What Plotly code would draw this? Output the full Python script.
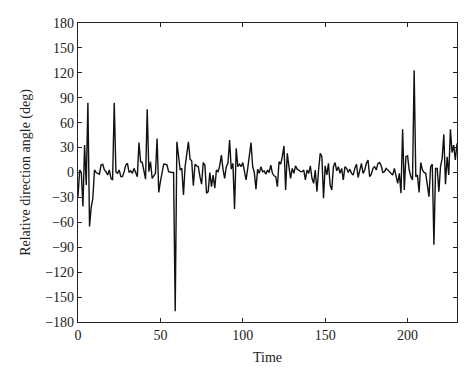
import plotly.graph_objects as go

# Relative direction angle (deg) per time step
angle_0_49 = [-29, 3, 0, -41, 33, -15, 84, -65, -42, -31,
              3, 0, -1, -2, 9, 10, 3, 1, -3, 3,
              -7, -9, 84, 1, -1, 3, -5, -5, 1, 9,
              11, 0, 2, -1, 5, 0, -5, 36, 13, 12,
              1, -8, 76, 1, 13, -7, -4, -1, 41, -24]
angle_50_99 = [-11, -1, 10, 10, 9, 1, 0, 0, 0, -167,
               37, 20, 3, 5, -27, 7, 20, 37, 16, 14,
               -16, 10, 8, 7, -5, -14, 12, 9, -25, -23,
               0, -17, -3, -19, 3, 1, 8, 21, 4, -7,
               7, 11, 39, 4, 11, -44, 29, 7, 10, 7]
angle_100_149 = [12, 2, -9, 5, 19, 36, 7, 0, -20, 4,
                 -1, 7, 1, 2, -2, 3, 0, 9, -1, -4,
                 -5, -17, 13, 10, 19, 32, -21, 23, 7, -7,
                 5, -1, 8, 4, 3, 1, 1, 3, -9, 3,
                 -1, 8, -7, -13, 3, -23, 3, 23, 19, -31]
angle_150_199 = [8, -3, 11, -15, -21, 7, 12, 2, 7, -1,
                 5, -9, 7, 5, 0, 4, -1, -3, 5, 10,
                 -6, 2, 11, -1, 3, 11, 15, -5, -2, 5,
                 7, 3, 11, 12, 8, 0, 1, 5, 3, 1,
                 -1, -3, 5, -3, -13, -1, -25, 52, -21, 19]
angle_200_230 = [20, 3, -5, -9, 123, -5, -3, -24, 12, 3,
                 0, -1, -13, -29, 7, 10, -87, 5, 5, -23,
                 7, 17, 46, -14, 19, -3, 52, 24, 33, 15,
                 35]

angle = angle_0_49 + angle_50_99 + angle_100_149 + angle_150_199 + angle_200_230
time = list(range(len(angle)))

x_ticks = [0, 50, 100, 150, 200]
y_ticks = [-180, -150, -120, -90, -60, -30, 0, 30, 60, 90, 120, 150, 180]

font_family = "Liberation Serif, DejaVu Serif, serif"

fig = go.Figure(
    go.Scatter(x=time, y=angle, mode="lines",
               line=dict(color="#111111", width=1.4))
)

axis_common = dict(
    showline=True, linecolor="#222222", linewidth=1.2, mirror="allticks",
    ticks="inside", ticklen=4, tickcolor="#222222", showgrid=False,
    zeroline=False, tickfont=dict(family=font_family, size=14, color="#222222"),
)

fig.update_xaxes(range=[0, 230], tickvals=x_ticks,
                 title=dict(text="Time", font=dict(family=font_family, size=14, color="#222222"),
                            standoff=10),
                 **axis_common)
fig.update_yaxes(range=[-180, 180], tickvals=y_ticks,
                 title=dict(text="Relative direction angle (deg)",
                            font=dict(family=font_family, size=14, color="#222222"),
                            standoff=11),
                 **axis_common)

fig.update_layout(
    width=474, height=383,
    margin=dict(l=78, r=17, t=23, b=61),
    paper_bgcolor="white", plot_bgcolor="white",
    showlegend=False,
)

fig.write_html("out.html")
